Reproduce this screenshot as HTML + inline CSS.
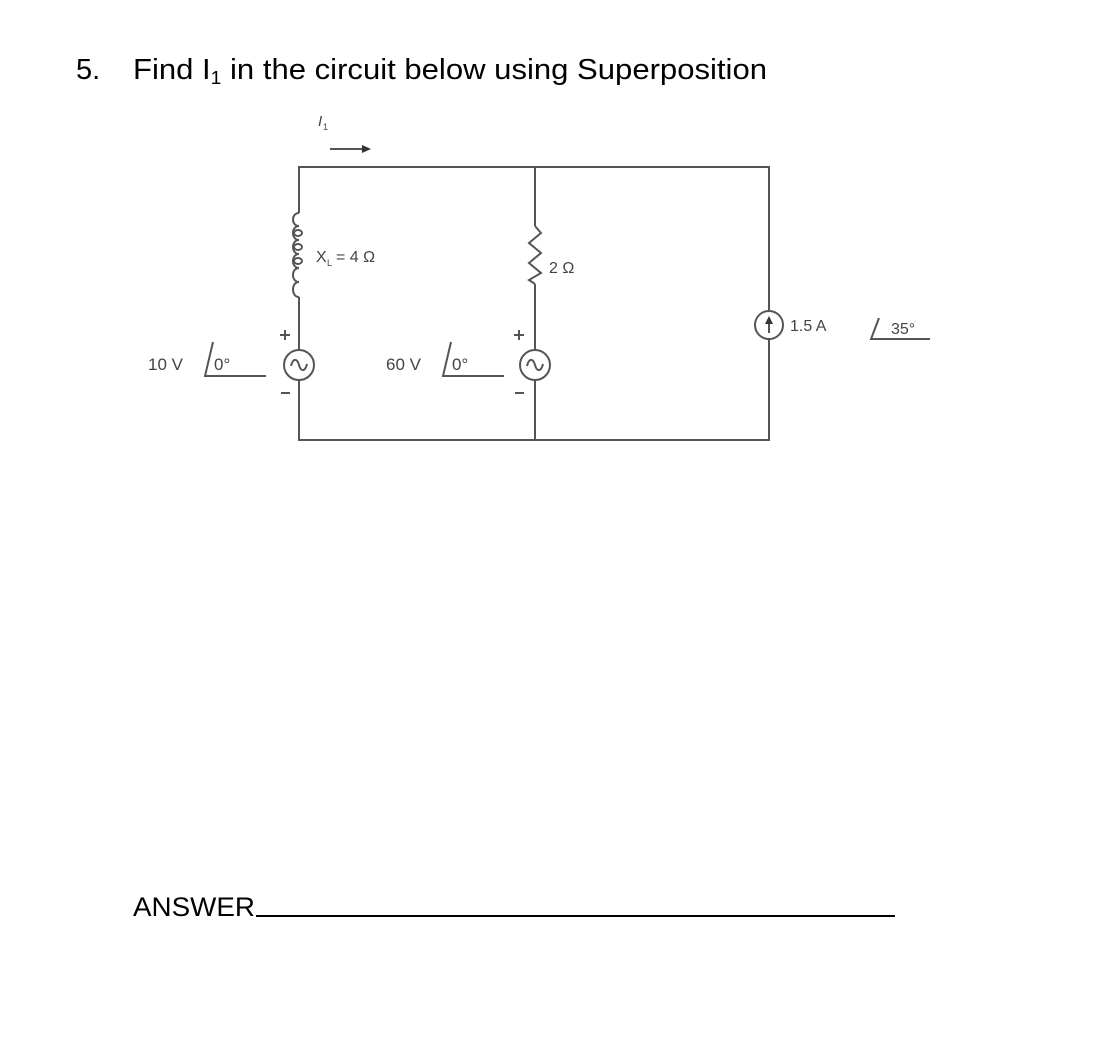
<!DOCTYPE html>
<html><head><meta charset="utf-8"><style>
html,body{margin:0;padding:0;background:#fff;}
svg{display:block;}
</style></head><body>
<svg width="1104" height="1054" viewBox="0 0 1104 1054" xmlns="http://www.w3.org/2000/svg">
<g font-family="Liberation Sans, sans-serif" fill="#000">
<text x="76" y="79" font-size="29">5.</text>
<text x="133" y="79" font-size="29" textLength="634" lengthAdjust="spacingAndGlyphs">Find I<tspan font-size="18" dy="5">1</tspan><tspan dy="-5"> in the circuit below using Superposition</tspan></text>
<text x="133" y="916" font-size="27" textLength="122" lengthAdjust="spacingAndGlyphs">ANSWER</text>
</g>
<line x1="256" y1="916" x2="895" y2="916" stroke="#000" stroke-width="2"/>

<g stroke="#555" stroke-width="2" fill="none">
<!-- wires -->
<polyline points="299,213 299,167 769,167 769,311"/>
<polyline points="769,339 769,440 299,440 299,380"/>
<line x1="535" y1="167" x2="535" y2="226"/>
<line x1="535" y1="284" x2="535" y2="350"/>
<line x1="535" y1="380" x2="535" y2="440"/>
<line x1="299" y1="297" x2="299" y2="350"/>
<!-- inductor -->
<path d="M299,213 C291,213 291,226 299,226 C291,226 291,240 299,240 C291,240 291,254 299,254 C291,254 291,268 299,268 C291,268 291,282 299,282 C291,282 291,297 299,297"/>
<ellipse cx="298" cy="233" rx="4" ry="3"/>
<ellipse cx="298" cy="247" rx="4" ry="3"/>
<ellipse cx="298" cy="261" rx="4" ry="3"/>
<!-- resistor -->
<polyline points="535,226 541,233 529,243 541,253 529,263 541,273 529,280 535,284"/>
<!-- sources -->
<circle cx="299" cy="365" r="15"/>
<circle cx="535" cy="365" r="15"/>
<path d="M291,366 C293,358 297,358 299,365 C301,372 305,372 307,364"/>
<path d="M527,366 C529,358 533,358 535,365 C537,372 541,372 543,364"/>
<circle cx="769" cy="325" r="14"/>
<line x1="769" y1="318" x2="769" y2="333"/>
<!-- +/- -->
<line x1="280" y1="335" x2="290" y2="335"/><line x1="285" y1="330" x2="285" y2="340"/>
<line x1="281" y1="393" x2="290" y2="393"/>
<line x1="514" y1="335" x2="524" y2="335"/><line x1="519" y1="330" x2="519" y2="340"/>
<line x1="515" y1="393" x2="524" y2="393"/>
<!-- angle lines -->
<polyline points="213,342 205,376 266,376"/>
<polyline points="451,342 443,376 504,376"/>
<polyline points="879,318 871,339 930,339"/>
<!-- I1 arrow -->
<line x1="330" y1="149" x2="364" y2="149"/>
</g>
<polygon points="362,145 371,149 362,153" fill="#333"/>
<polygon points="765,324 769,316 773,324" fill="#333"/>

<g font-family="Liberation Sans, sans-serif" fill="#444" font-size="16">
<text x="318" y="126" font-style="italic" font-size="15">I</text>
<text x="323" y="130" font-size="9">1</text>
<text x="316" y="262">X</text>
<text x="327" y="266" font-size="9">L</text>
<text x="336" y="262">= 4 Ω</text>
<text x="549" y="273">2 Ω</text>
<text x="148" y="370" font-size="17">10 V</text>
<text x="214" y="370" font-size="17">0°</text>
<text x="386" y="370" font-size="17">60 V</text>
<text x="452" y="370" font-size="17">0°</text>
<text x="790" y="331">1.5 A</text>
<text x="891" y="334">35°</text>
</g>
</svg>
</body></html>
